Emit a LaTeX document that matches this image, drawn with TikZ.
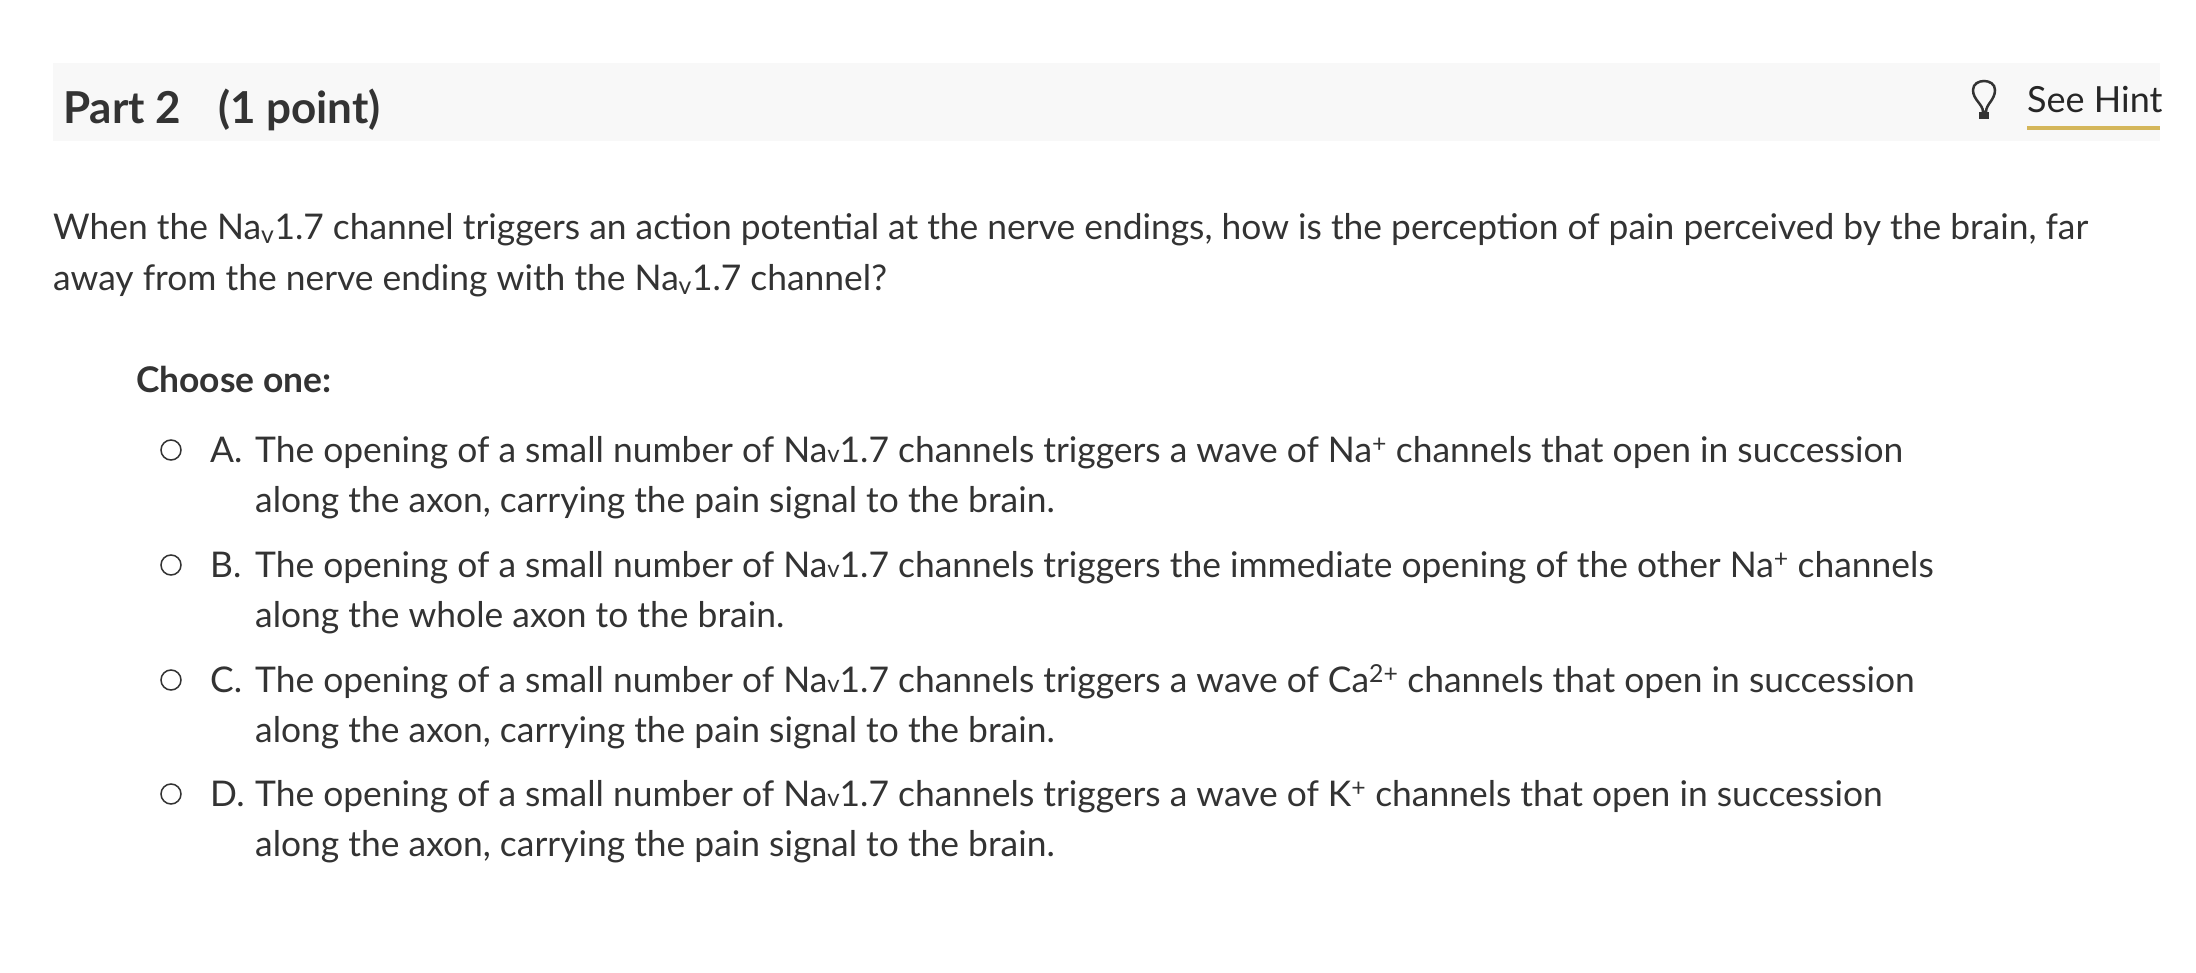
\documentclass[tikz,border=0pt]{standalone}
\usepackage{fontspec}
\setmainfont{Lato}
\definecolor{txt}{HTML}{333333}
\definecolor{band}{HTML}{F8F8F8}
\definecolor{gold}{HTML}{D4B65A}
\newcommand{\subv}{\textsubscript{v}}
\newcommand{\smv}{{\fontsize{24}{24}\selectfont v}}
\newcommand{\sups}[1]{\textsuperscript{#1}}
\begin{document}
\begin{tikzpicture}[x=1pt,y=-1pt,
  body/.style={anchor=base west,inner sep=0pt,text=txt,font=\fontsize{35.4}{40}\selectfont},
  radio/.style={circle,draw=txt,line width=1.5pt,minimum size=20pt,inner sep=0pt}]
\useasboundingbox (0,0) rectangle (2196,973);
\fill[white] (0,0) rectangle (2196,973);
\node[fill=band,minimum width=2107pt,minimum height=78pt,inner sep=0pt,anchor=north west] (hdr) at (53,63) {};
\node[body,font=\fontsize{44}{46}\selectfont\bfseries] (t1) at (63,124) {Part 2};
\node[body,font=\fontsize{44}{46}\selectfont\bfseries] (t2) at (218,124) {(1 point)};
\node[body,font=\fontsize{36}{40}\selectfont,text=black!85] (hint) at (2027,113) {See Hint};
\draw[gold,line width=4pt] (2027,128) -- (2160,128);
% bulb
\draw[txt,line width=2.5pt] (1983,112) .. controls (1983,104) and (1973,100) .. (1973,90) .. controls (1973,78) and (1995,78) .. (1995,90) .. controls (1995,100) and (1986,104) .. (1986,112) -- cycle;
\fill[txt] (1979,112) rectangle (1989,119);
\node[body] (q1) at (53,240) {When the Na\subv1.7 channel triggers an action potential at the nerve endings, how is the perception of pain perceived by the brain, far};
\node[body] (q2) at (53,291) {away from the nerve ending with the Na\subv1.7 channel?};
\node[body,font=\fontsize{35.4}{40}\selectfont\bfseries] (ch) at (136,393) {Choose one:};
\foreach \n/\y/\l/\a/\b in {
 a/462/A./The opening of a small number of Na\smv1.7 channels triggers a wave of Na\sups{+} channels that open in succession/along the axon{,} carrying the pain signal to the brain.,
 b/577/B./The opening of a small number of Na\smv1.7 channels triggers the immediate opening of the other Na\sups{+} channels/along the whole axon to the brain.,
 c/692/C./The opening of a small number of Na\smv1.7 channels triggers a wave of Ca\sups{2+} channels that open in succession/along the axon{,} carrying the pain signal to the brain.,
 d/806/D./The opening of a small number of Na\smv1.7 channels triggers a wave of K\sups{+} channels that open in succession/along the axon{,} carrying the pain signal to the brain.}{
 \node[radio] (r\n) at (171,\y-12) {};
 \node[body] (l\n) at (210,\y) {\l};
 \node[body] (x\n) at (255,\y) {\a};
 \node[body] (y\n) at (255,\y+50) {\b};
}
\end{tikzpicture}
\end{document}
